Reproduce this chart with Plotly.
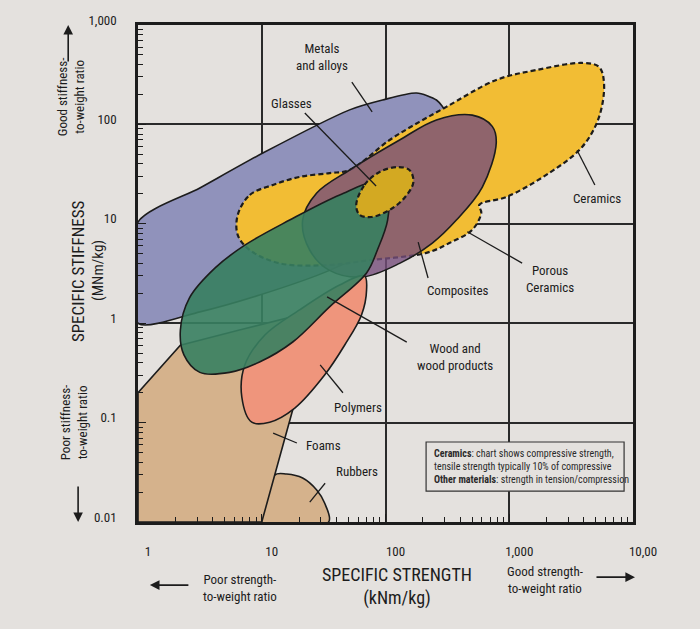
import plotly.graph_objects as go

# ---------------- data (specific strength kNm/kg, specific stiffness MNm/kg) ----------------
metals_strength = [1.0, 3.16, 10.2, 51.3, 94.6, 178, 258, 310, 310, 226, 108, 35.3, 9.6, 3.16, 1.0]
metals_stiffness = [10.4, 22.9, 51.5, 140, 176, 207, 176, 130, 69.7, 17.4, 6.9, 3.4, 1.92, 1.3, 1.0]

ceramics_strength = [6.4, 8.0, 12.3, 20.2, 35.3, 51.3, 108, 188, 310, 785, 1650, 3880, 5320, 5830,
                     5320, 3880, 2100, 946, 573, 594, 503, 328, 214, 74.3, 35.3, 14, 8.0, 6.4]
ceramics_stiffness = [12.3, 19.5, 24.6, 29.6, 32.4, 34.8, 69.7, 106, 150, 280, 352, 415, 378, 261,
                      119, 59.3, 32.4, 18.6, 15.5, 12.9, 8.7, 6.4, 5.1, 4.3, 3.85, 4.0, 5.45, 7.7]

glasses_strength = [58, 67.7, 89.5, 125, 156, 168, 142, 108, 77, 61.7]
glasses_stiffness = [15.5, 24.6, 33.2, 37.2, 34.8, 26.3, 18.2, 13.8, 11.7, 12.3]

composites_strength = [21.4, 27.8, 51.3, 130, 258, 503, 729, 785, 606, 374, 239, 130, 65.3, 35.3, 24.4]
composites_stiffness = [10.9, 20.4, 34.8, 69.7, 111, 124, 95.5, 65, 23.4, 10.9, 6.4, 4.0, 2.92, 3.4, 5.45]

wood_strength = [2.2, 2.6, 4.2, 7.3, 16.8, 42.6, 81.5, 104, 104, 86, 70.3, 35.3, 17.8, 9.6, 5.5, 3.16, 2.35]
wood_stiffness = [0.855, 1.79, 3.6, 6.1, 10.9, 19.5, 25.7, 19.5, 10.9, 5.45, 3.2, 1.46, 0.647, 0.407, 0.32, 0.32, 0.48]

polymers_strength = [8.3, 6.9, 7.3, 10.6, 20.2, 42.6, 67.7, 70.3, 64, 46.7, 32.2, 18.5, 11.6]
polymers_stiffness = [0.101, 0.181, 0.38, 0.76, 1.36, 2.42, 2.99, 2.16, 1.21, 0.6, 0.301, 0.14, 0.101]

foams_strength = [1.0, 2.2, 6.6, 20.2, 27.2, 17.5, 10.0, 1.0]
foams_stiffness = [0.2, 0.6, 0.855, 1.21, 0.855, 0.125, 0.01, 0.01]

rubbers_strength = [12.7, 15.9, 21.4, 27.8, 32.2, 34.7, 10.0]
rubbers_stiffness = [0.0297, 0.0304, 0.0277, 0.021, 0.0155, 0.01, 0.01]

x_tickvals = [1, 10, 100, 1000, 10000]
x_ticktext = ["1", "10", "100", "1,000", "10,00"]
y_tickvals = [0.01, 0.1, 1, 10, 100, 1000]
y_ticktext = ["0.01", "0.1", "1", "10", "100", "1,000"]

# ---------------- styling ----------------
FONT = "Liberation Sans Narrow, Roboto Condensed, Roboto, sans-serif"
INK = "#1c1c1c"
BG = "#e4e1de"


def closed(a):
    return list(a) + [a[0]]


fig = go.Figure()


def region(xs, ys, fill, dashed=False, shape="spline", width=1.6, smoothing=1.0):
    fig.add_trace(go.Scatter(
        x=closed(xs), y=closed(ys), mode="lines", fill="toself", fillcolor=fill,
        line=dict(color=INK, width=width, shape=shape, smoothing=smoothing,
                  dash="5px,3px" if dashed else "solid"),
        hoverinfo="skip", showlegend=False))


region(rubbers_strength, rubbers_stiffness, "#d5b28c")
region(foams_strength, foams_stiffness, "#d5b28c", shape="linear")
region(metals_strength, metals_stiffness, "#9092bb", smoothing=0.7)
region(ceramics_strength, ceramics_stiffness, "#f2bd34", dashed=True, width=2.2)
region(composites_strength, composites_stiffness, "rgba(118,78,122,0.80)")
region(polymers_strength, polymers_stiffness, "#ef957c")
region(wood_strength, wood_stiffness, "rgba(55,128,97,0.90)")
region(glasses_strength, glasses_stiffness, "#d3a922", dashed=True, width=2.2)

minor_x = [k * 10 ** d for d in range(0, 4) for k in range(2, 10)]
minor_y = [k * 10.0 ** d for d in range(-2, 3) for k in range(2, 10)]

fig.update_xaxes(type="log", range=[0, 4], tickvals=x_tickvals, ticktext=x_ticktext,
                 showgrid=True, gridcolor="#2a2a2a", gridwidth=1.5,
                 showline=True, linecolor=INK, linewidth=2.5, mirror=True,
                 ticks="inside", ticklen=8, tickcolor=INK, tickwidth=1.2,
                 ticklabelstandoff=16, ticklabelshift=10,
                 minor=dict(tickvals=minor_x, ticks="inside", ticklen=5, tickcolor=INK, tickwidth=1, showgrid=False),
                 tickfont=dict(family=FONT, size=13, color=INK), zeroline=False)
fig.update_yaxes(type="log", range=[-2, 3], tickvals=y_tickvals, ticktext=y_ticktext,
                 showgrid=True, gridcolor="#2a2a2a", gridwidth=1.5,
                 showline=True, linecolor=INK, linewidth=2.5, mirror=True,
                 ticks="inside", ticklen=8, tickcolor=INK, tickwidth=1.2,
                 ticklabelstandoff=16, ticklabelshift=-5,
                 minor=dict(tickvals=minor_y, ticks="inside", ticklen=5, tickcolor=INK, tickwidth=1, showgrid=False),
                 tickfont=dict(family=FONT, size=13, color=INK), zeroline=False)

# ---------------- labels and leader lines (paper coordinates) ----------------
labels = [
    ("Metals<br>and alloys", 0.372, 0.936),
    ("Glasses", 0.311, 0.843),
    ("Ceramics", 0.927, 0.650),
    ("Porous<br>Ceramics", 0.832, 0.489),
    ("Composites", 0.646, 0.465),
    ("Wood and<br>wood products", 0.640, 0.332),
    ("Polymers", 0.444, 0.231),
    ("Foams", 0.374, 0.153),
    ("Rubbers", 0.442, 0.101),
]
leaders = [
    (0.432, 0.885, 0.473, 0.825),
    (0.337, 0.823, 0.481, 0.676),
    (0.923, 0.678, 0.887, 0.748),
    (0.776, 0.521, 0.665, 0.584),
    (0.586, 0.491, 0.566, 0.563),
    (0.543, 0.362, 0.382, 0.453),
    (0.414, 0.260, 0.368, 0.316),
    (0.321, 0.159, 0.273, 0.179),
    (0.378, 0.078, 0.347, 0.040),
]


def text(t, x, y, size=13, angle=0, **kw):
    fig.add_annotation(text=t, x=x, y=y, xref="paper", yref="paper", showarrow=False,
                       xanchor=kw.pop("xanchor", "center"), yanchor="middle", textangle=angle,
                       font=dict(family=FONT, size=size, color=kw.pop("color", INK)), **kw)


for t, x, y in labels:
    text(t, x, y, align="center")
for x0, y0, x1, y1 in leaders:
    fig.add_shape(type="line", xref="paper", yref="paper", x0=x0, y0=y0, x1=x1, y1=y1,
                  line=dict(color=INK, width=1.3))

# notes box
fig.add_shape(type="rect", xref="paper", yref="paper", x0=0.582, x1=0.982, y0=0.062, y1=0.161,
              line=dict(color="#333", width=1.2), fillcolor=BG)
text("<b>Ceramics</b>: chart shows compressive strength,<br>"
     "tensile strength typically 10% of compressive<br>"
     "<b>Other materials</b>: strength in tension/compression",
     0.594, 0.112, size=10, xanchor="left", align="left", color="#2a2a2a")

# axis titles
text("SPECIFIC STIFFNESS", -0.121, 0.505, size=17, angle=-90)
text("(MNm/kg)", -0.081, 0.507, size=15, angle=-90)
text("Good stiffness-<br>to-weight ratio", -0.135, 0.855, angle=-90)
text("Poor stiffness-<br>to-weight ratio", -0.129, 0.201, angle=-90)
text("SPECIFIC STRENGTH<br>(kNm/kg)", 0.523, -0.129, size=18)
text("Poor strength-<br>to-weight ratio", 0.206, -0.133)
text("Good strength-<br>to-weight ratio", 0.822, -0.117)

# direction arrows
for x, y, ax, ay in [(-0.141, 1.0, 0, 38), (-0.121, 0.0, 0, -37), (0.024, -0.127, 40, 0), (1.004, -0.111, -40, 0)]:
    fig.add_annotation(text="", x=x, y=y, xref="paper", yref="paper", ax=ax, ay=ay,
                       showarrow=True, arrowhead=2, arrowsize=1.2, arrowwidth=1.6, arrowcolor=INK)

fig.update_layout(width=700, height=629, autosize=False,
                  margin=dict(l=138, r=67, t=25, b=107),
                  paper_bgcolor=BG, plot_bgcolor=BG, showlegend=False,
                  font=dict(family=FONT, color=INK))

fig.write_html("out.html", config={"displayModeBar": False},
               post_script="document.body.style.margin='0';document.body.style.background='%s';" % BG)
